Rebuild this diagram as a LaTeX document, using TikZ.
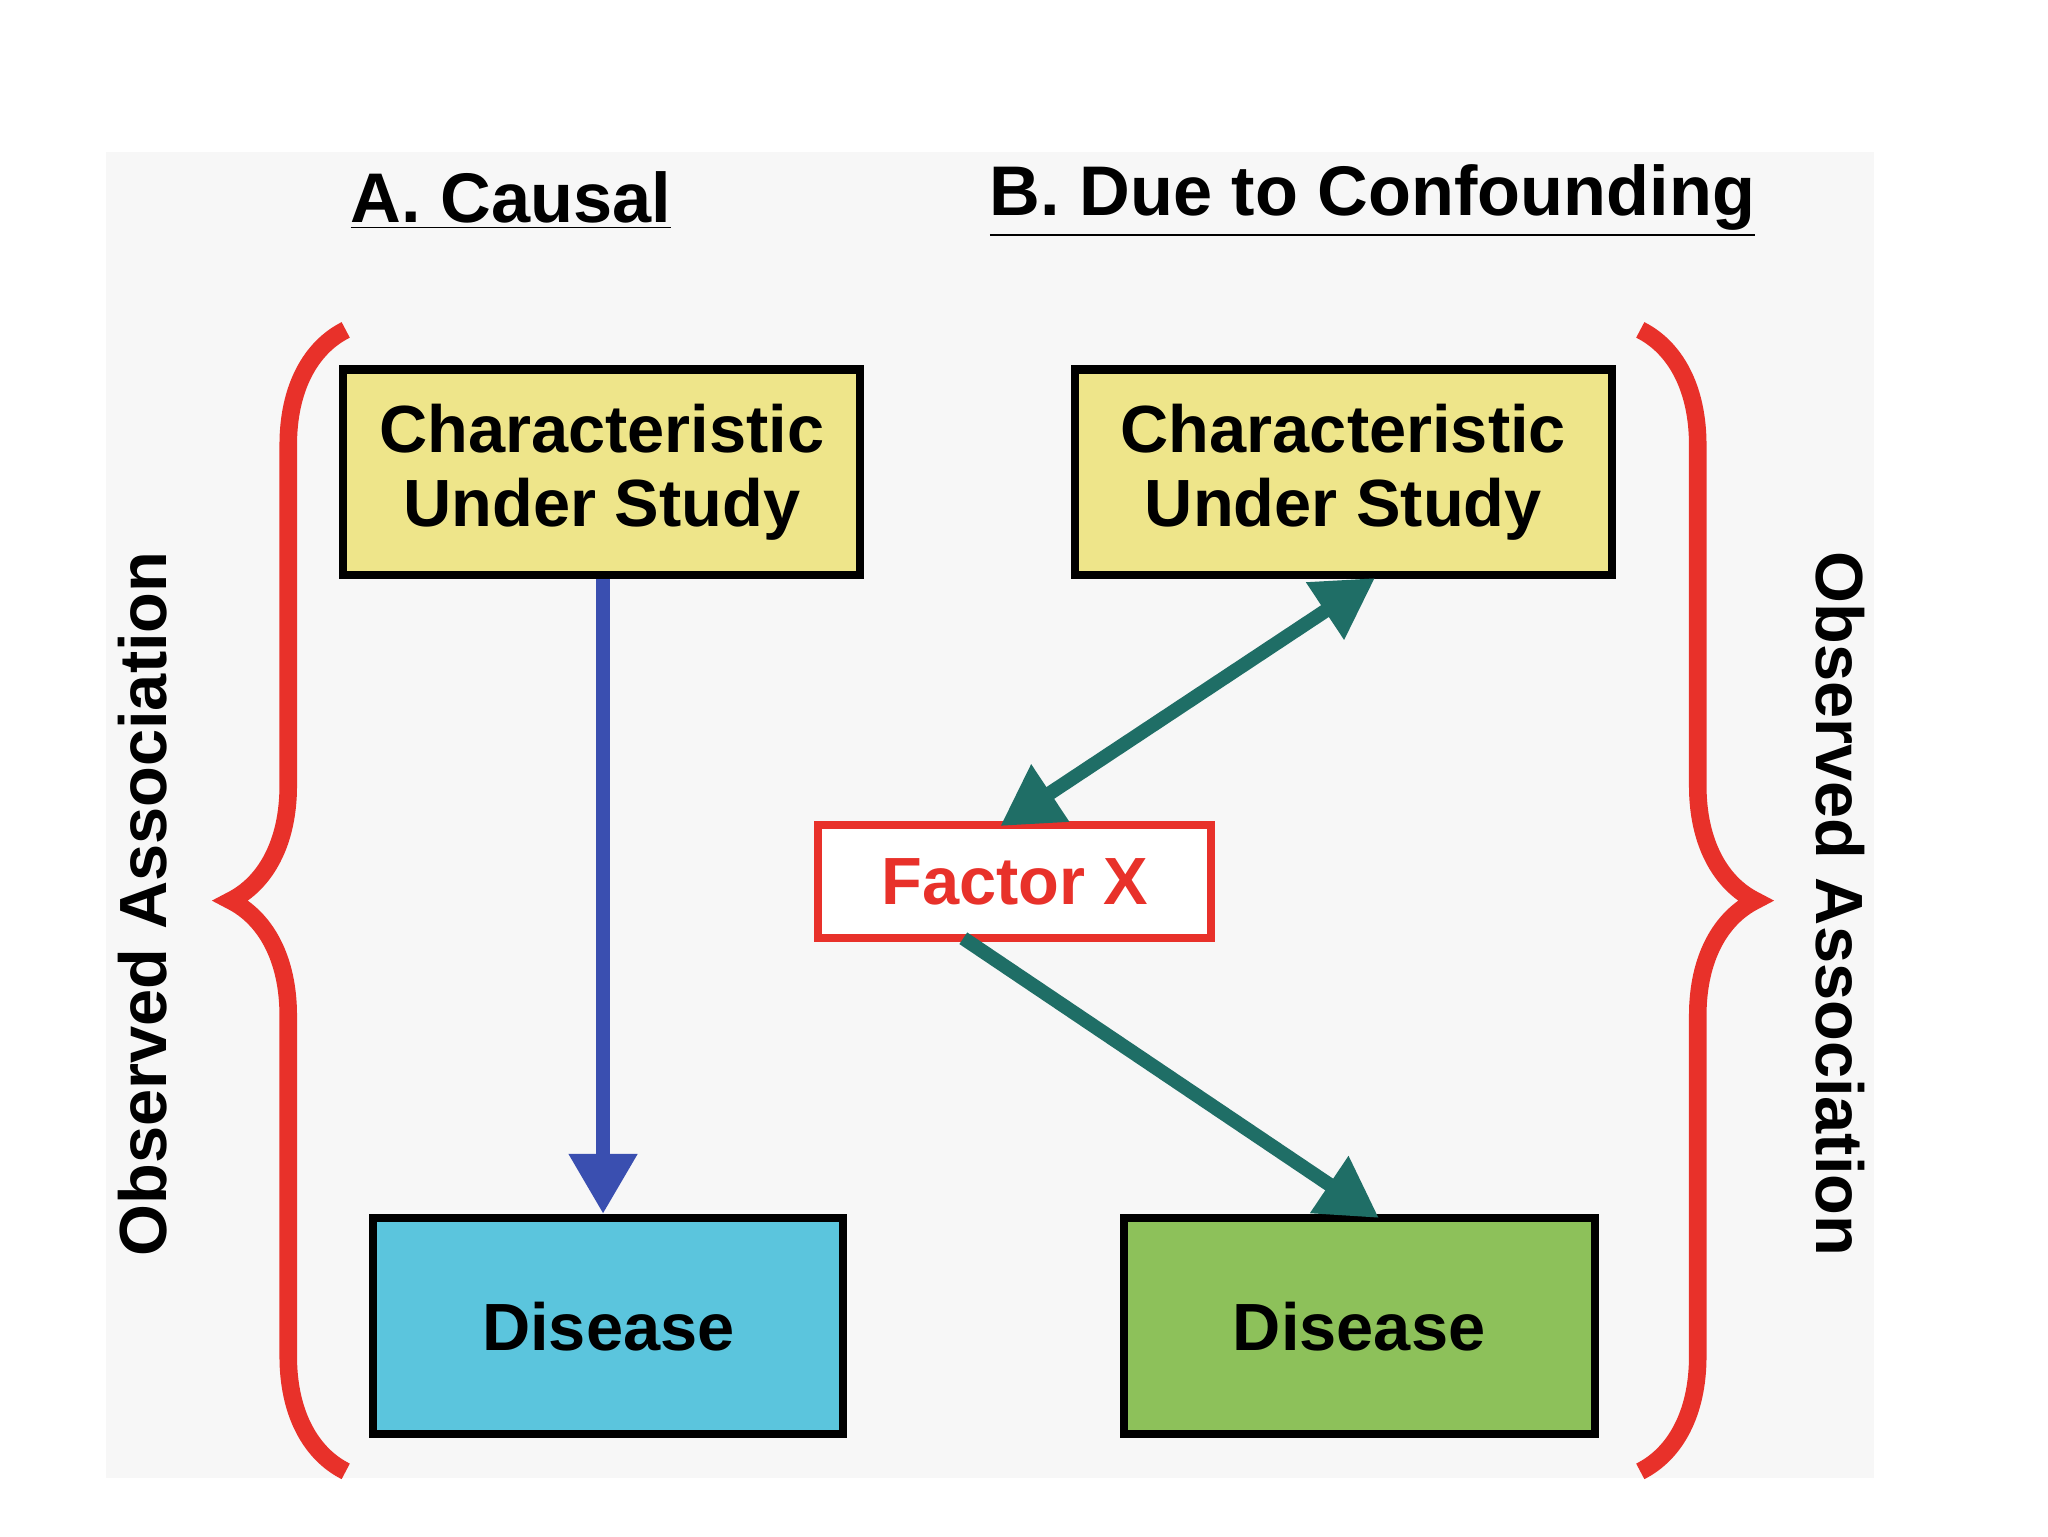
\documentclass[tikz,border=0pt]{standalone}
\usepackage{fontspec}
\setmainfont{Liberation Sans}
\usetikzlibrary{arrows.meta,decorations.pathreplacing}
\definecolor{yel}{HTML}{EEE58A}
\definecolor{cy}{HTML}{5BC5DD}
\definecolor{gr}{HTML}{8DC15A}
\definecolor{rd}{HTML}{E8312A}
\definecolor{bl}{HTML}{3A4FB0}
\definecolor{tl}{HTML}{1F6E66}
\begin{document}
\begin{tikzpicture}[x=0.0132cm,y=-0.0132cm,
  box/.style={draw=black,line width=2.3pt,inner sep=0pt,font=\bfseries\fontsize{19}{21}\selectfont,align=center},
  title/.style={font=\bfseries\fontsize{20}{22}\selectfont},
  side/.style={font=\bfseries\fontsize{19}{21}\selectfont},
  arr/.style={line width=4pt,-{Triangle[length=0.6cm,width=0.65cm]}},
  brc/.style={draw=rd,line width=5pt,decorate,decoration={brace,amplitude=1.15cm}}]
\useasboundingbox (0,0) rectangle (1552,1164);
\fill[white] (0,0) rectangle (1552,1164);
\fill[black!3] (80,115) rectangle (1420,1120);
\node[title] (ta) at (387,152) {\underline{A. Causal}};
\node[title] (tb) at (1040,152) {\underline{B. Due to Confounding}};
\node[box,fill=yel,minimum width=392*0.0132cm,minimum height=156*0.0132cm] (c1) at (456,358) {Characteristic\\Under Study};
\node[box,fill=yel,minimum width=407*0.0132cm,minimum height=156*0.0132cm] (c2) at (1018,358) {Characteristic\\Under Study};
\node[box,fill=cy,minimum width=356*0.0132cm,minimum height=164*0.0132cm] (d1) at (461,1005) {Disease};
\node[box,fill=gr,minimum width=357*0.0132cm,minimum height=164*0.0132cm] (d2) at (1030,1005) {Disease};
\node[box,draw=rd,text=rd,fill=white,minimum width=298*0.0132cm,minimum height=86*0.0132cm] (fx) at (769,668) {Factor X};
\draw[arr,draw=bl,fill=bl] (c1.south -| 457,0) -- (d1.north -| 457,0);
\draw[arr,draw=tl,fill=tl,{Triangle[length=0.6cm,width=0.65cm]}-{Triangle[length=0.6cm,width=0.65cm]}] (1042,438) -- (758,626);
\draw[arr,draw=tl,fill=tl] (730,711) -- (1045,923);
\draw[brc] (262,1115) -- (262,250);
\draw[brc] (1243,250) -- (1243,1115);
\node[side,rotate=90] (s1) at (108,685) {Observed Association};
\node[side,rotate=-90] (s2) at (1395,685) {Observed Association};
\end{tikzpicture}
\end{document}
